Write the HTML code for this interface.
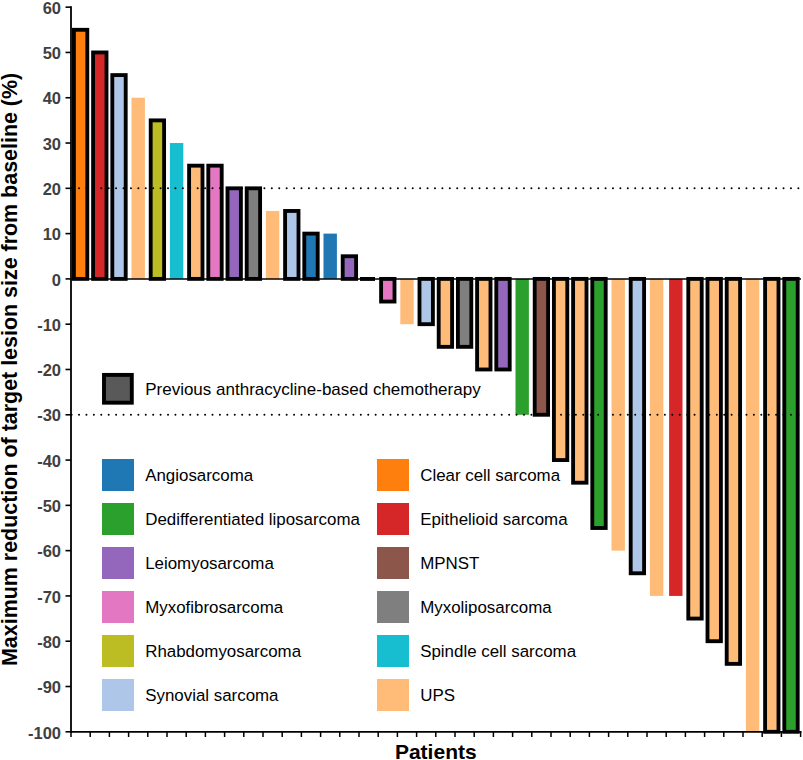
<!DOCTYPE html><html><head><meta charset="utf-8"><style>html,body{margin:0;padding:0;background:#fff;}svg{display:block;}text{font-family:"Liberation Sans",sans-serif;}</style></head><body>
<svg width="803" height="760" viewBox="0 0 803 760">
<rect x="0" y="0" width="803" height="760" fill="#fff"/>
<rect x="73.90" y="29.80" width="13.4" height="249.09" fill="#ff7f0e" stroke="#000" stroke-width="3.85"/>
<rect x="93.10" y="52.45" width="13.4" height="226.45" fill="#d62728" stroke="#000" stroke-width="3.85"/>
<rect x="112.30" y="75.09" width="13.4" height="203.81" fill="#aec7e8" stroke="#000" stroke-width="3.85"/>
<rect x="131.50" y="97.74" width="13.4" height="181.16" fill="#ffbb78"/>
<rect x="150.70" y="120.38" width="13.4" height="158.51" fill="#bcbd22" stroke="#000" stroke-width="3.85"/>
<rect x="169.90" y="143.03" width="13.4" height="135.87" fill="#17becf"/>
<rect x="189.10" y="165.67" width="13.4" height="113.22" fill="#ffbb78" stroke="#000" stroke-width="3.85"/>
<rect x="208.30" y="165.67" width="13.4" height="113.22" fill="#e377c2" stroke="#000" stroke-width="3.85"/>
<rect x="227.50" y="188.32" width="13.4" height="90.58" fill="#9467bd" stroke="#000" stroke-width="3.85"/>
<rect x="246.70" y="188.32" width="13.4" height="90.58" fill="#7f7f7f" stroke="#000" stroke-width="3.85"/>
<rect x="265.90" y="210.96" width="13.4" height="67.94" fill="#ffbb78"/>
<rect x="285.10" y="210.96" width="13.4" height="67.94" fill="#aec7e8" stroke="#000" stroke-width="3.85"/>
<rect x="304.30" y="233.61" width="13.4" height="45.29" fill="#1f77b4" stroke="#000" stroke-width="3.85"/>
<rect x="323.50" y="233.61" width="13.4" height="45.29" fill="#1f77b4"/>
<rect x="342.70" y="256.25" width="13.4" height="22.64" fill="#9467bd" stroke="#000" stroke-width="3.85"/>
<rect x="360" y="277" width="15" height="3.9" fill="#000"/>
<rect x="381.10" y="278.90" width="13.4" height="22.64" fill="#e377c2" stroke="#000" stroke-width="3.85"/>
<rect x="400.30" y="278.90" width="13.4" height="45.29" fill="#ffbb78"/>
<rect x="419.50" y="278.90" width="13.4" height="45.29" fill="#aec7e8" stroke="#000" stroke-width="3.85"/>
<rect x="438.70" y="278.90" width="13.4" height="67.94" fill="#ffbb78" stroke="#000" stroke-width="3.85"/>
<rect x="457.90" y="278.90" width="13.4" height="67.94" fill="#7f7f7f" stroke="#000" stroke-width="3.85"/>
<rect x="477.10" y="278.90" width="13.4" height="90.58" fill="#ffbb78" stroke="#000" stroke-width="3.85"/>
<rect x="496.30" y="278.90" width="13.4" height="90.58" fill="#9467bd" stroke="#000" stroke-width="3.85"/>
<rect x="515.50" y="278.90" width="13.4" height="135.87" fill="#2ca02c"/>
<rect x="534.70" y="278.90" width="13.4" height="135.87" fill="#8c564b" stroke="#000" stroke-width="3.85"/>
<rect x="553.90" y="278.90" width="13.4" height="181.16" fill="#ffbb78" stroke="#000" stroke-width="3.85"/>
<rect x="573.10" y="278.90" width="13.4" height="203.81" fill="#ffbb78" stroke="#000" stroke-width="3.85"/>
<rect x="592.30" y="278.90" width="13.4" height="249.10" fill="#2ca02c" stroke="#000" stroke-width="3.85"/>
<rect x="611.50" y="278.90" width="13.4" height="271.74" fill="#ffbb78"/>
<rect x="630.70" y="278.90" width="13.4" height="294.38" fill="#aec7e8" stroke="#000" stroke-width="3.85"/>
<rect x="649.90" y="278.90" width="13.4" height="317.03" fill="#ffbb78"/>
<rect x="669.10" y="278.90" width="13.4" height="317.03" fill="#d62728"/>
<rect x="688.30" y="278.90" width="13.4" height="339.68" fill="#ffbb78" stroke="#000" stroke-width="3.85"/>
<rect x="707.50" y="278.90" width="13.4" height="362.32" fill="#ffbb78" stroke="#000" stroke-width="3.85"/>
<rect x="726.70" y="278.90" width="13.4" height="384.97" fill="#ffbb78" stroke="#000" stroke-width="3.85"/>
<rect x="745.90" y="278.90" width="13.4" height="452.90" fill="#ffbb78"/>
<rect x="765.10" y="278.90" width="13.4" height="452.90" fill="#ffbb78" stroke="#000" stroke-width="3.85"/>
<rect x="784.30" y="278.90" width="13.4" height="452.90" fill="#2ca02c" stroke="#000" stroke-width="3.85"/>
<line x1="71.0" y1="278.9" x2="801" y2="278.9" stroke="#000" stroke-width="1.5"/>
<line x1="71.6" y1="188.32" x2="801" y2="188.32" stroke="#000" stroke-width="2" stroke-linecap="round" stroke-dasharray="0 7.416"/>
<line x1="71.6" y1="414.77" x2="801" y2="414.77" stroke="#000" stroke-width="2" stroke-linecap="round" stroke-dasharray="0 7.416"/>
<line x1="71.0" y1="6.26" x2="71.0" y2="732.70" stroke="#000" stroke-width="1.8"/>
<line x1="70.1" y1="731.80" x2="801.5" y2="731.80" stroke="#000" stroke-width="1.8"/>
<line x1="65.5" y1="7.16" x2="71.0" y2="7.16" stroke="#000" stroke-width="1.6"/>
<text x="61" y="13.86" text-anchor="end" font-size="16.5" font-weight="bold" fill="#404040">60</text>
<line x1="65.5" y1="52.45" x2="71.0" y2="52.45" stroke="#000" stroke-width="1.6"/>
<text x="61" y="59.15" text-anchor="end" font-size="16.5" font-weight="bold" fill="#404040">50</text>
<line x1="65.5" y1="97.74" x2="71.0" y2="97.74" stroke="#000" stroke-width="1.6"/>
<text x="61" y="104.44" text-anchor="end" font-size="16.5" font-weight="bold" fill="#404040">40</text>
<line x1="65.5" y1="143.03" x2="71.0" y2="143.03" stroke="#000" stroke-width="1.6"/>
<text x="61" y="149.73" text-anchor="end" font-size="16.5" font-weight="bold" fill="#404040">30</text>
<line x1="65.5" y1="188.32" x2="71.0" y2="188.32" stroke="#000" stroke-width="1.6"/>
<text x="61" y="195.02" text-anchor="end" font-size="16.5" font-weight="bold" fill="#404040">20</text>
<line x1="65.5" y1="233.61" x2="71.0" y2="233.61" stroke="#000" stroke-width="1.6"/>
<text x="61" y="240.31" text-anchor="end" font-size="16.5" font-weight="bold" fill="#404040">10</text>
<line x1="65.5" y1="278.90" x2="71.0" y2="278.90" stroke="#000" stroke-width="1.6"/>
<text x="61" y="285.60" text-anchor="end" font-size="16.5" font-weight="bold" fill="#404040">0</text>
<line x1="65.5" y1="324.19" x2="71.0" y2="324.19" stroke="#000" stroke-width="1.6"/>
<text x="61" y="330.89" text-anchor="end" font-size="16.5" font-weight="bold" fill="#404040">-10</text>
<line x1="65.5" y1="369.48" x2="71.0" y2="369.48" stroke="#000" stroke-width="1.6"/>
<text x="61" y="376.18" text-anchor="end" font-size="16.5" font-weight="bold" fill="#404040">-20</text>
<line x1="65.5" y1="414.77" x2="71.0" y2="414.77" stroke="#000" stroke-width="1.6"/>
<text x="61" y="421.47" text-anchor="end" font-size="16.5" font-weight="bold" fill="#404040">-30</text>
<line x1="65.5" y1="460.06" x2="71.0" y2="460.06" stroke="#000" stroke-width="1.6"/>
<text x="61" y="466.76" text-anchor="end" font-size="16.5" font-weight="bold" fill="#404040">-40</text>
<line x1="65.5" y1="505.35" x2="71.0" y2="505.35" stroke="#000" stroke-width="1.6"/>
<text x="61" y="512.05" text-anchor="end" font-size="16.5" font-weight="bold" fill="#404040">-50</text>
<line x1="65.5" y1="550.64" x2="71.0" y2="550.64" stroke="#000" stroke-width="1.6"/>
<text x="61" y="557.34" text-anchor="end" font-size="16.5" font-weight="bold" fill="#404040">-60</text>
<line x1="65.5" y1="595.93" x2="71.0" y2="595.93" stroke="#000" stroke-width="1.6"/>
<text x="61" y="602.63" text-anchor="end" font-size="16.5" font-weight="bold" fill="#404040">-70</text>
<line x1="65.5" y1="641.22" x2="71.0" y2="641.22" stroke="#000" stroke-width="1.6"/>
<text x="61" y="647.92" text-anchor="end" font-size="16.5" font-weight="bold" fill="#404040">-80</text>
<line x1="65.5" y1="686.51" x2="71.0" y2="686.51" stroke="#000" stroke-width="1.6"/>
<text x="61" y="693.21" text-anchor="end" font-size="16.5" font-weight="bold" fill="#404040">-90</text>
<line x1="65.5" y1="731.80" x2="71.0" y2="731.80" stroke="#000" stroke-width="1.6"/>
<text x="61" y="738.50" text-anchor="end" font-size="16.5" font-weight="bold" fill="#404040">-100</text>
<line x1="71.00" y1="731.80" x2="71.00" y2="737" stroke="#000" stroke-width="1.5"/>
<line x1="90.20" y1="731.80" x2="90.20" y2="737" stroke="#000" stroke-width="1.5"/>
<line x1="109.40" y1="731.80" x2="109.40" y2="737" stroke="#000" stroke-width="1.5"/>
<line x1="128.60" y1="731.80" x2="128.60" y2="737" stroke="#000" stroke-width="1.5"/>
<line x1="147.80" y1="731.80" x2="147.80" y2="737" stroke="#000" stroke-width="1.5"/>
<line x1="167.00" y1="731.80" x2="167.00" y2="737" stroke="#000" stroke-width="1.5"/>
<line x1="186.20" y1="731.80" x2="186.20" y2="737" stroke="#000" stroke-width="1.5"/>
<line x1="205.40" y1="731.80" x2="205.40" y2="737" stroke="#000" stroke-width="1.5"/>
<line x1="224.60" y1="731.80" x2="224.60" y2="737" stroke="#000" stroke-width="1.5"/>
<line x1="243.80" y1="731.80" x2="243.80" y2="737" stroke="#000" stroke-width="1.5"/>
<line x1="263.00" y1="731.80" x2="263.00" y2="737" stroke="#000" stroke-width="1.5"/>
<line x1="282.20" y1="731.80" x2="282.20" y2="737" stroke="#000" stroke-width="1.5"/>
<line x1="301.40" y1="731.80" x2="301.40" y2="737" stroke="#000" stroke-width="1.5"/>
<line x1="320.60" y1="731.80" x2="320.60" y2="737" stroke="#000" stroke-width="1.5"/>
<line x1="339.80" y1="731.80" x2="339.80" y2="737" stroke="#000" stroke-width="1.5"/>
<line x1="359.00" y1="731.80" x2="359.00" y2="737" stroke="#000" stroke-width="1.5"/>
<line x1="378.20" y1="731.80" x2="378.20" y2="737" stroke="#000" stroke-width="1.5"/>
<line x1="397.40" y1="731.80" x2="397.40" y2="737" stroke="#000" stroke-width="1.5"/>
<line x1="416.60" y1="731.80" x2="416.60" y2="737" stroke="#000" stroke-width="1.5"/>
<line x1="435.80" y1="731.80" x2="435.80" y2="737" stroke="#000" stroke-width="1.5"/>
<line x1="455.00" y1="731.80" x2="455.00" y2="737" stroke="#000" stroke-width="1.5"/>
<line x1="474.20" y1="731.80" x2="474.20" y2="737" stroke="#000" stroke-width="1.5"/>
<line x1="493.40" y1="731.80" x2="493.40" y2="737" stroke="#000" stroke-width="1.5"/>
<line x1="512.60" y1="731.80" x2="512.60" y2="737" stroke="#000" stroke-width="1.5"/>
<line x1="531.80" y1="731.80" x2="531.80" y2="737" stroke="#000" stroke-width="1.5"/>
<line x1="551.00" y1="731.80" x2="551.00" y2="737" stroke="#000" stroke-width="1.5"/>
<line x1="570.20" y1="731.80" x2="570.20" y2="737" stroke="#000" stroke-width="1.5"/>
<line x1="589.40" y1="731.80" x2="589.40" y2="737" stroke="#000" stroke-width="1.5"/>
<line x1="608.60" y1="731.80" x2="608.60" y2="737" stroke="#000" stroke-width="1.5"/>
<line x1="627.80" y1="731.80" x2="627.80" y2="737" stroke="#000" stroke-width="1.5"/>
<line x1="647.00" y1="731.80" x2="647.00" y2="737" stroke="#000" stroke-width="1.5"/>
<line x1="666.20" y1="731.80" x2="666.20" y2="737" stroke="#000" stroke-width="1.5"/>
<line x1="685.40" y1="731.80" x2="685.40" y2="737" stroke="#000" stroke-width="1.5"/>
<line x1="704.60" y1="731.80" x2="704.60" y2="737" stroke="#000" stroke-width="1.5"/>
<line x1="723.80" y1="731.80" x2="723.80" y2="737" stroke="#000" stroke-width="1.5"/>
<line x1="743.00" y1="731.80" x2="743.00" y2="737" stroke="#000" stroke-width="1.5"/>
<line x1="762.20" y1="731.80" x2="762.20" y2="737" stroke="#000" stroke-width="1.5"/>
<line x1="781.40" y1="731.80" x2="781.40" y2="737" stroke="#000" stroke-width="1.5"/>
<line x1="800.60" y1="731.80" x2="800.60" y2="737" stroke="#000" stroke-width="1.5"/>
<text x="435.8" y="758.5" text-anchor="middle" font-size="21" font-weight="bold" fill="#000">Patients</text>
<text transform="translate(17.4,369.4) rotate(-90)" x="0" y="0" text-anchor="middle" font-size="21.45" font-weight="bold" fill="#000">Maximum reduction of target lesion size from baseline (%)</text>
<rect x="104" y="374.9" width="27.8" height="27.8" fill="#595959" stroke="#000" stroke-width="3.9"/>
<text x="145.2" y="395.2" font-size="17" fill="#000">Previous anthracycline-based chemotherapy</text>
<rect x="102" y="459" width="32" height="32" fill="#1f77b4"/>
<text x="145.2" y="481.3" font-size="16.9" fill="#000">Angiosarcoma</text>
<rect x="102" y="503" width="32" height="32" fill="#2ca02c"/>
<text x="145.2" y="525.3" font-size="16.9" fill="#000">Dedifferentiated liposarcoma</text>
<rect x="102" y="547" width="32" height="32" fill="#9467bd"/>
<text x="145.2" y="569.3" font-size="16.9" fill="#000">Leiomyosarcoma</text>
<rect x="102" y="591" width="32" height="32" fill="#e377c2"/>
<text x="145.2" y="613.3" font-size="16.9" fill="#000">Myxofibrosarcoma</text>
<rect x="102" y="635" width="32" height="32" fill="#bcbd22"/>
<text x="145.2" y="657.3" font-size="16.9" fill="#000">Rhabdomyosarcoma</text>
<rect x="102" y="679" width="32" height="32" fill="#aec7e8"/>
<text x="145.2" y="701.3" font-size="16.9" fill="#000">Synovial sarcoma</text>
<rect x="377" y="459" width="32" height="32" fill="#ff7f0e"/>
<text x="420.2" y="481.3" font-size="16.9" fill="#000">Clear cell sarcoma</text>
<rect x="377" y="503" width="32" height="32" fill="#d62728"/>
<text x="420.2" y="525.3" font-size="16.9" fill="#000">Epithelioid sarcoma</text>
<rect x="377" y="547" width="32" height="32" fill="#8c564b"/>
<text x="420.2" y="569.3" font-size="16.9" fill="#000">MPNST</text>
<rect x="377" y="591" width="32" height="32" fill="#7f7f7f"/>
<text x="420.2" y="613.3" font-size="16.9" fill="#000">Myxoliposarcoma</text>
<rect x="377" y="635" width="32" height="32" fill="#17becf"/>
<text x="420.2" y="657.3" font-size="16.9" fill="#000">Spindle cell sarcoma</text>
<rect x="377" y="679" width="32" height="32" fill="#ffbb78"/>
<text x="420.2" y="701.3" font-size="16.9" fill="#000">UPS</text>
</svg></body></html>
